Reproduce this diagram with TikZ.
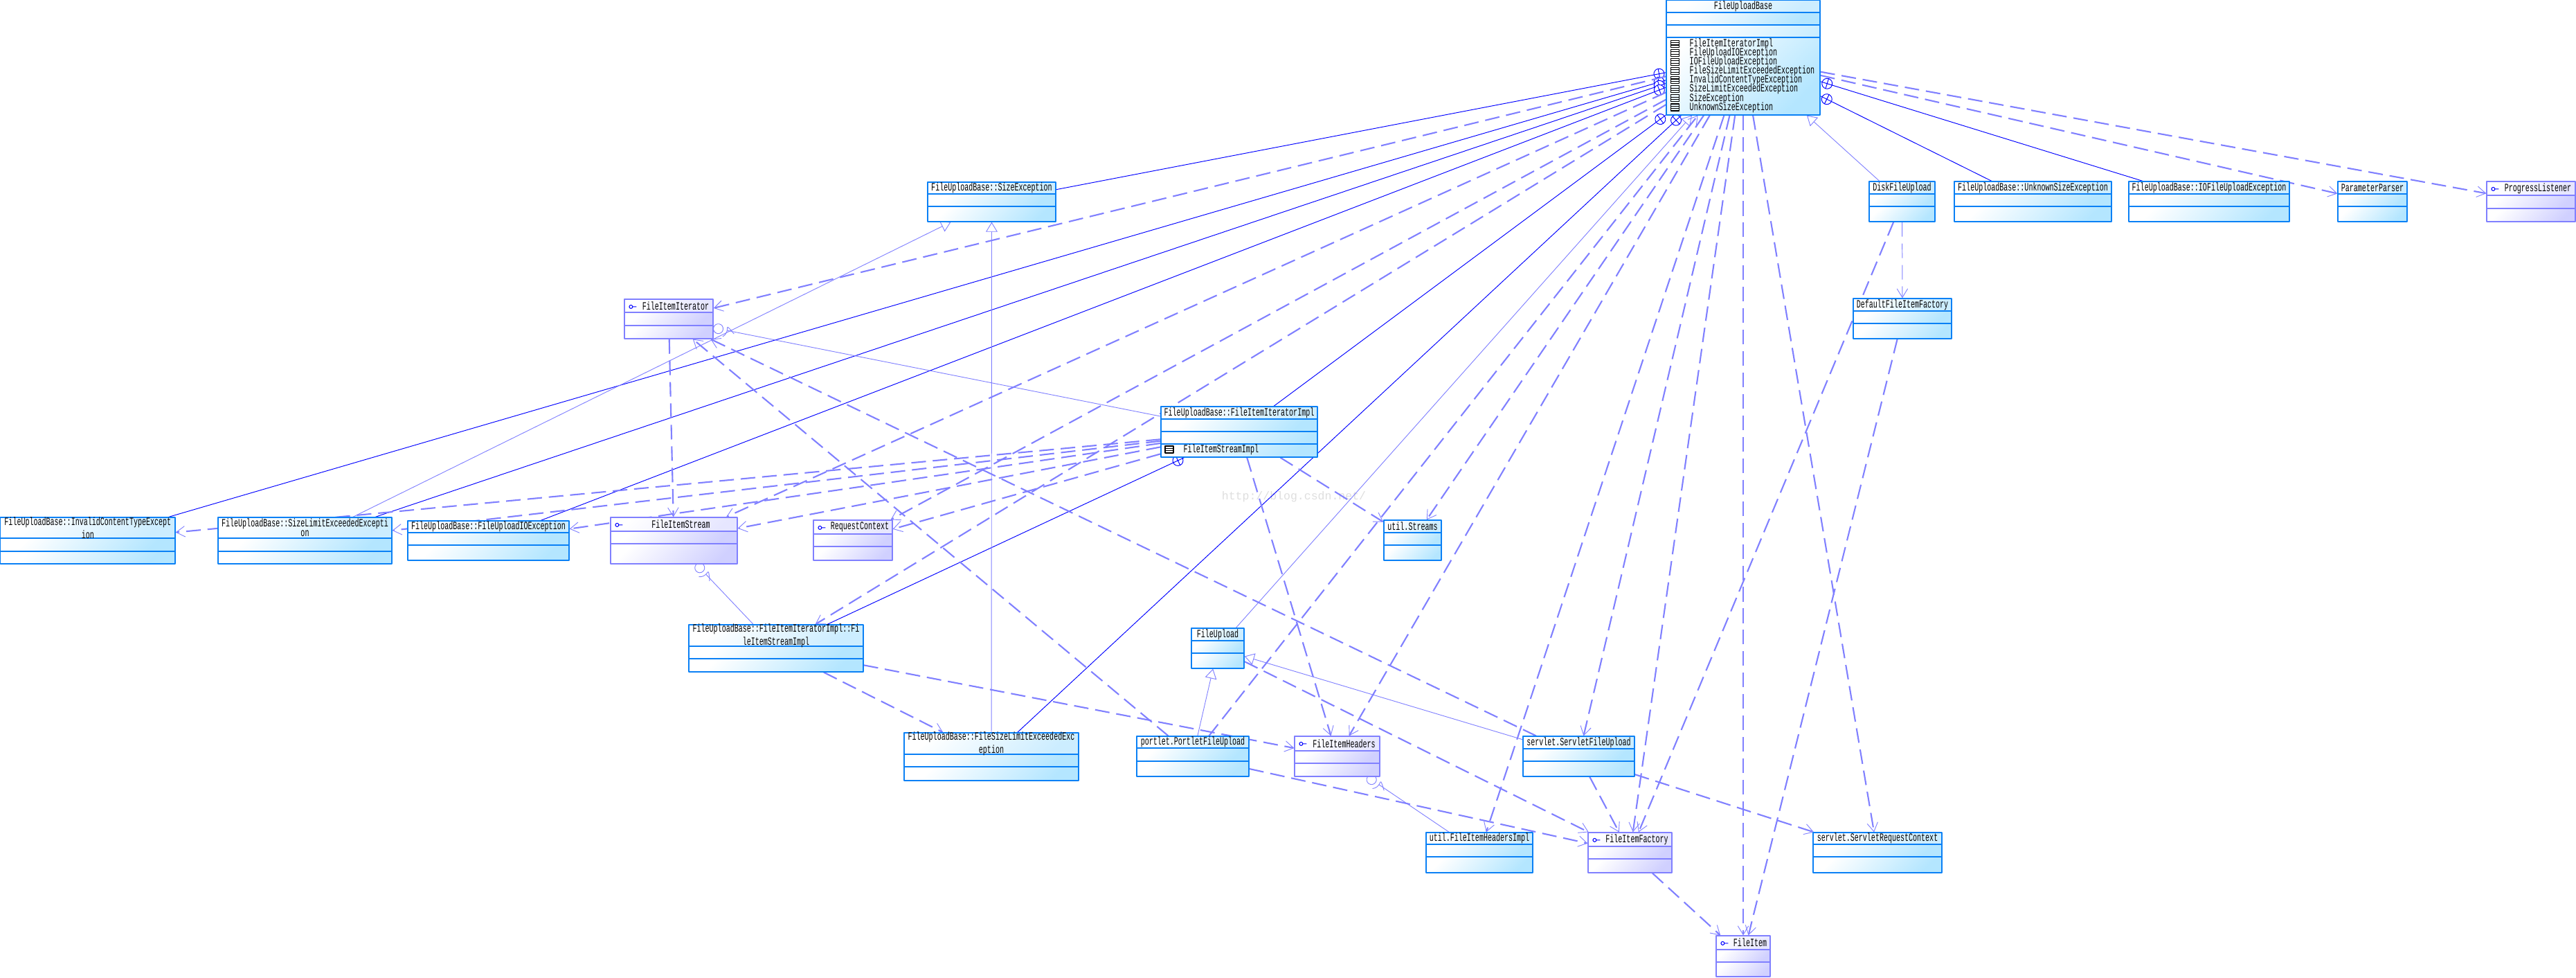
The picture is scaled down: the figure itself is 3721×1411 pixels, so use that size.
\documentclass[tikz,border=0pt]{standalone}
\usepackage{fontspec}
\usetikzlibrary{arrows.meta,decorations.markings}
\newfontfamily\umlmono[FakeStretch=0.62]{Liberation Mono}
\newfontfamily\markmono{Liberation Mono}
\newcommand{\umlfont}{\umlmono\fontsize{4.6}{3.98}\selectfont}
\definecolor{classline}{HTML}{0A80F5}
\definecolor{classend}{HTML}{B4E6FF}
\definecolor{classhead}{HTML}{CCEDFF}
\definecolor{ifaceline}{HTML}{8080FF}
\definecolor{ifaceend}{HTML}{D0D0FF}
\definecolor{ifacehead}{HTML}{E6E6FF}
\definecolor{nestblue}{HTML}{0000FF}
\pgfdeclarelayer{conn}
\pgfsetlayers{conn,main}
\tikzset{
    classhdr/.style={shading=axis, top color=white, bottom color=classhead, shading angle=45},
    classbdy/.style={shading=axis, top color=white, bottom color=classend, shading angle=45},
    classrule/.style={draw=classline, line width=0.36pt},
    classtext/.style={font=\umlfont, align=center, inner sep=0pt},
    ifacehdr/.style={shading=axis, top color=white, bottom color=ifacehead, shading angle=45},
    ifacebdy/.style={shading=axis, top color=white, bottom color=ifaceend, shading angle=45},
    ifacerule/.style={draw=ifaceline, line width=0.36pt},
    ifacetext/.style={font=\umlfont, align=center, inner sep=0pt, xshift=0.1cm},
    itemtext/.style={font=\umlfont, inner sep=0pt, anchor=west},
    dep/.style={draw=ifaceline, line width=0.6pt, dash pattern=on 6pt off 2.8pt,
        -{Straight Barb[length=3.6pt,width=4.4pt,line width=0.26pt]}},
    call/.style={draw=ifaceline, line width=0.28pt, dash pattern=on 6pt off 2.8pt,
        -{Straight Barb[length=3.6pt,width=4.4pt,line width=0.26pt]}},
    gen/.style={draw=ifaceline, line width=0.26pt,
        -{Triangle[fill=white,length=4pt,width=4.8pt,line width=0.26pt]}},
    nest/.style={draw=nestblue, line width=0.27pt, postaction={decorate}, decoration={markings,
        mark=at position -0.1cm with {
            \draw[nestblue, line width=0.27pt, fill=white] (0,0) circle (2.13pt);
            \draw[nestblue, line width=0.27pt] (-2.13pt,0) -- (2.13pt,0) (0,-2.13pt) -- (0,2.13pt);}}},
    lolli/.style={draw=ifaceline, line width=0.26pt, shorten >=0.2cm, postaction={decorate},
        decoration={markings, mark=at position -0.07cm with {
            \draw[ifaceline, line width=0.26pt] (0,0) circle (2pt);
            \draw[ifaceline, line width=0.26pt] (130:3.7pt) arc (130:230:3.7pt);}}},
}
% #1 class/iface, #2 name, #3-#6 corners, #7 #8 rules, #9 title
\newcommand{\umlbox}[9]{
    \shade[#1bdy] (#3,#7) rectangle (#5,#8);
    \shade[#1bdy] (#3,#8) rectangle (#5,#6);
    \shade[#1hdr] (#3,#4) rectangle (#5,#7);
    \draw[#1rule] (#3,#7) -- (#5,#7) (#3,#8) -- (#5,#8);
    \node[#1rule, inner sep=0pt, minimum width={(#5-#3)*0.01cm}, minimum height={(#6-#4)*0.01cm}]
        (#2) at ({(#3+#5)/2},{(#4+#6)/2}) {};
    \path (#3,#4) -- node[#1text] (#2-t) {#9} (#5,#7);
}
\newcommand{\rowicon}[2]{
    \draw[black, line width=0.3pt] (#1,#2-5) rectangle (#1+12,#2+5)
        (#1,#2-1.7) -- (#1+12,#2-1.7) (#1,#2+1.7) -- (#1+12,#2+1.7);
}
\begin{document}
\begin{tikzpicture}[x=0.01cm, y=-0.01cm, line join=round]
    \useasboundingbox (0,0) rectangle (3721,1411);
    \umlbox{class}{fub}{2407}{0.7}{2629}{166}{18}{36}{FileUploadBase}
    \umlbox{class}{iterimpl}{1677}{587}{1903}{660}{605}{623}{FileUploadBase::FileItemIteratorImpl}
    \umlbox{class}{sizeex}{1340}{263}{1525}{320}{280}{298}{FileUploadBase::SizeException}
    \umlbox{class}{invalid}{0.7}{747}{253}{814}{777}{796}{FileUploadBase::InvalidContentTypeExcept\\ion}
    \umlbox{class}{sizelimit}{315}{747}{566}{814}{777}{796}{FileUploadBase::SizeLimitExceededExcepti\\on}
    \umlbox{class}{uploadio}{589}{752}{822}{809}{769}{787}{FileUploadBase::FileUploadIOException}
    \umlbox{class}{streamimpl}{995}{902}{1247}{970}{933}{951}{FileUploadBase::FileItemIteratorImpl::Fi\\leItemStreamImpl}
    \umlbox{class}{filesize}{1306}{1058}{1558}{1127}{1089}{1107}{FileUploadBase::FileSizeLimitExceededExc\\eption}
    \umlbox{class}{upload}{1721}{907}{1797}{965}{925}{943}{FileUpload}
    \umlbox{class}{portlet}{1642}{1063}{1804}{1121}{1080}{1099}{portlet.PortletFileUpload}
    \umlbox{class}{servlet}{2200}{1063}{2361}{1121}{1081}{1099}{servlet.ServletFileUpload}
    \umlbox{class}{streams}{1999}{751}{2082}{809}{769}{787}{util.Streams}
    \umlbox{class}{headimpl}{2060}{1202}{2214}{1260}{1219}{1237}{util.FileItemHeadersImpl}
    \umlbox{class}{srvctx}{2619}{1202}{2805}{1260}{1219}{1237}{servlet.ServletRequestContext}
    \umlbox{class}{disk}{2700}{262}{2795}{320}{280}{298}{DiskFileUpload}
    \umlbox{class}{unknown}{2823}{262}{3050}{320}{280}{298}{FileUploadBase::UnknownSizeException}
    \umlbox{class}{iofile}{3075}{262}{3307}{320}{280}{298}{FileUploadBase::IOFileUploadException}
    \umlbox{class}{params}{3377}{262}{3477}{320}{280}{298}{ParameterParser}
    \umlbox{class}{deffact}{2677}{431}{2819}{489}{449}{467}{DefaultFileItemFactory}
    \umlbox{iface}{iter}{902}{432}{1030}{489}{451}{470}{FileItemIterator}
    \umlbox{iface}{stream}{882}{747}{1065}{814}{767}{785}{FileItemStream}
    \umlbox{iface}{reqctx}{1175}{751}{1289}{809}{771}{789}{RequestContext}
    \umlbox{iface}{headers}{1870}{1063}{1993}{1121}{1084}{1102}{FileItemHeaders}
    \umlbox{iface}{factory}{2294}{1202}{2415}{1260}{1222}{1240}{FileItemFactory}
    \umlbox{iface}{fileitem}{2479}{1351}{2557}{1410}{1371}{1389}{FileItem}
    \umlbox{iface}{progress}{3592}{262}{3720}{320}{282}{301}{ProgressListener}
    \foreach \n in {iter,stream,reqctx,headers,factory,fileitem,progress} {
        \draw[nestblue, line width=0.3pt] ([shift={(10,11.5)}]\n.north west) circle (0.7pt)
            ([shift={(12.5,11.5)}]\n.north west) -- ([shift={(18,11.5)}]\n.north west);
    }
    % extra compartments
    \draw[classrule] (2407,54) -- (2629,54);
    \draw[classrule] (1677,641) -- (1903,641);
    \foreach \txt [count=\i] in {FileItemIteratorImpl,FileUploadIOException,IOFileUploadException,
        FileSizeLimitExceededException,InvalidContentTypeException,SizeLimitExceededException,
        SizeException,UnknownSizeException} {
        \pgfmathsetmacro{\ly}{63.3+13.1*(\i-1)}
        \rowicon{2413}{\ly}
        \node[itemtext] (item\i) at (2440,\ly) {\txt};
    }
    \rowicon{1683}{649}
    \node[itemtext] (item9) at (1709,649) {FileItemStreamImpl};
    \begin{pgfonlayer}{conn}
        \node[font=\markmono\fontsize{4.7}{5}\selectfont, text=black!13, inner sep=0pt] (mark) at (1869,717) {http://blog.csdn.net/};
        \foreach \a/\b in {sizeex/fub, invalid/fub, sizelimit/fub, uploadio/fub, iterimpl/fub,
            filesize/fub, unknown/fub, iofile/fub, streamimpl/iterimpl}
            \draw[nest] (\a) -- (\b);
        \foreach \a/\b in {sizelimit/sizeex, filesize/sizeex, disk/fub, upload/fub,
            portlet/upload, servlet/upload}
            \draw[gen] (\a) -- (\b);
        \foreach \a/\b in {streamimpl/stream, iterimpl/iter, headimpl/headers}
            \draw[lolli] (\a) -- (\b);
        \draw[call] (disk) -- (deffact);
        \foreach \a/\b in {fub/iter, fub/stream, fub/reqctx, fub/streamimpl, fub/streams,
            fub/headers, fub/headimpl, fub/servlet, fub/factory, fub/fileitem, fub/srvctx,
            fub/params, fub/progress, portlet/fub,
            iterimpl/invalid, iterimpl/sizelimit, iterimpl/uploadio, iterimpl/stream,
            iterimpl/reqctx, iterimpl/streams, iterimpl/headers,
            iter/stream, portlet/iter, servlet/iter, streamimpl/filesize, streamimpl/headers,
            upload/factory, portlet/factory, servlet/factory, servlet/srvctx,
            disk/factory, deffact/fileitem, factory/fileitem}
            \draw[dep] (\a) -- (\b);
    \end{pgfonlayer}
\end{tikzpicture}
\end{document}
